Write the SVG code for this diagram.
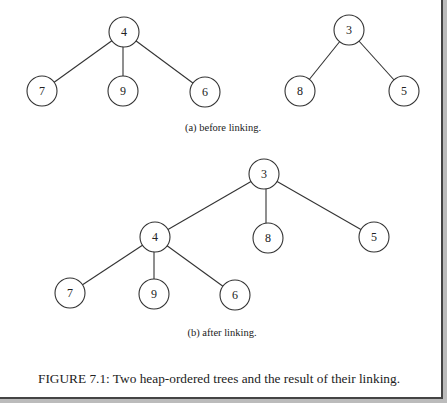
<svg xmlns="http://www.w3.org/2000/svg" width="447" height="403" viewBox="0 0 447 403">
<style>
.n circle{fill:#fff;stroke:#333;stroke-width:1.1}
.n text{font-family:"Liberation Serif",serif;font-size:12px;fill:#222;text-anchor:middle}
.e line{stroke:#333;stroke-width:1.1}
.cap{font-family:"Liberation Serif",serif;fill:#222;text-anchor:middle}
</style>
<rect x="0" y="0" width="447" height="403" fill="#fff"/>
<g id="frame">
<rect x="441" y="0" width="2" height="399" fill="#444"/>
<rect x="443" y="0" width="4" height="403" fill="#bbb"/>
<rect x="0" y="397" width="443" height="2" fill="#444"/>
<rect x="0" y="399" width="447" height="4" fill="#bbb"/>
</g>
<g id="connectors" class="e">
<line x1="124" y1="32" x2="42" y2="91"/>
<line x1="123" y1="32" x2="123" y2="91"/>
<line x1="124" y1="32" x2="205" y2="92"/>
<line x1="349" y1="30" x2="300" y2="91"/>
<line x1="349" y1="30" x2="404" y2="91"/>
<line x1="264" y1="174" x2="155" y2="237"/>
<line x1="266" y1="174" x2="266" y2="238"/>
<line x1="264" y1="174" x2="374" y2="237"/>
<line x1="155" y1="237" x2="70" y2="293"/>
<line x1="154" y1="237" x2="154" y2="294"/>
<line x1="155" y1="237" x2="235" y2="295"/>
</g>
<g id="a4" class="n"><circle cx="124" cy="32" r="15"/><text x="124" y="36">4</text></g>
<g id="a7" class="n"><circle cx="42" cy="91" r="15"/><text x="42" y="95">7</text></g>
<g id="a9" class="n"><circle cx="123" cy="91" r="15"/><text x="123" y="95">9</text></g>
<g id="a6" class="n"><circle cx="205" cy="92" r="15"/><text x="205" y="96">6</text></g>
<g id="a3" class="n"><circle cx="349" cy="30" r="15"/><text x="349" y="34">3</text></g>
<g id="a8" class="n"><circle cx="300" cy="91" r="15"/><text x="300" y="95">8</text></g>
<g id="a5" class="n"><circle cx="404" cy="91" r="15"/><text x="404" y="95">5</text></g>
<g id="b3" class="n"><circle cx="264" cy="174" r="15"/><text x="264" y="178">3</text></g>
<g id="b4" class="n"><circle cx="155" cy="237" r="15"/><text x="155" y="241">4</text></g>
<g id="b8" class="n"><circle cx="268" cy="238" r="15"/><text x="268" y="242">8</text></g>
<g id="b5" class="n"><circle cx="374" cy="237" r="15"/><text x="374" y="241">5</text></g>
<g id="b7" class="n"><circle cx="70" cy="293" r="15"/><text x="70" y="297">7</text></g>
<g id="b9" class="n"><circle cx="154" cy="294" r="15"/><text x="154" y="298">9</text></g>
<g id="b6" class="n"><circle cx="235" cy="295" r="15"/><text x="235" y="299">6</text></g>
<text class="cap" x="223" y="131" font-size="10.5">(a) before linking.</text>
<text class="cap" x="222" y="336" font-size="10.5">(b) after linking.</text>
<text class="cap" x="219" y="383" font-size="12" textLength="362" lengthAdjust="spacingAndGlyphs">FIGURE 7.1: Two heap-ordered trees and the result of their linking.</text>
</svg>
